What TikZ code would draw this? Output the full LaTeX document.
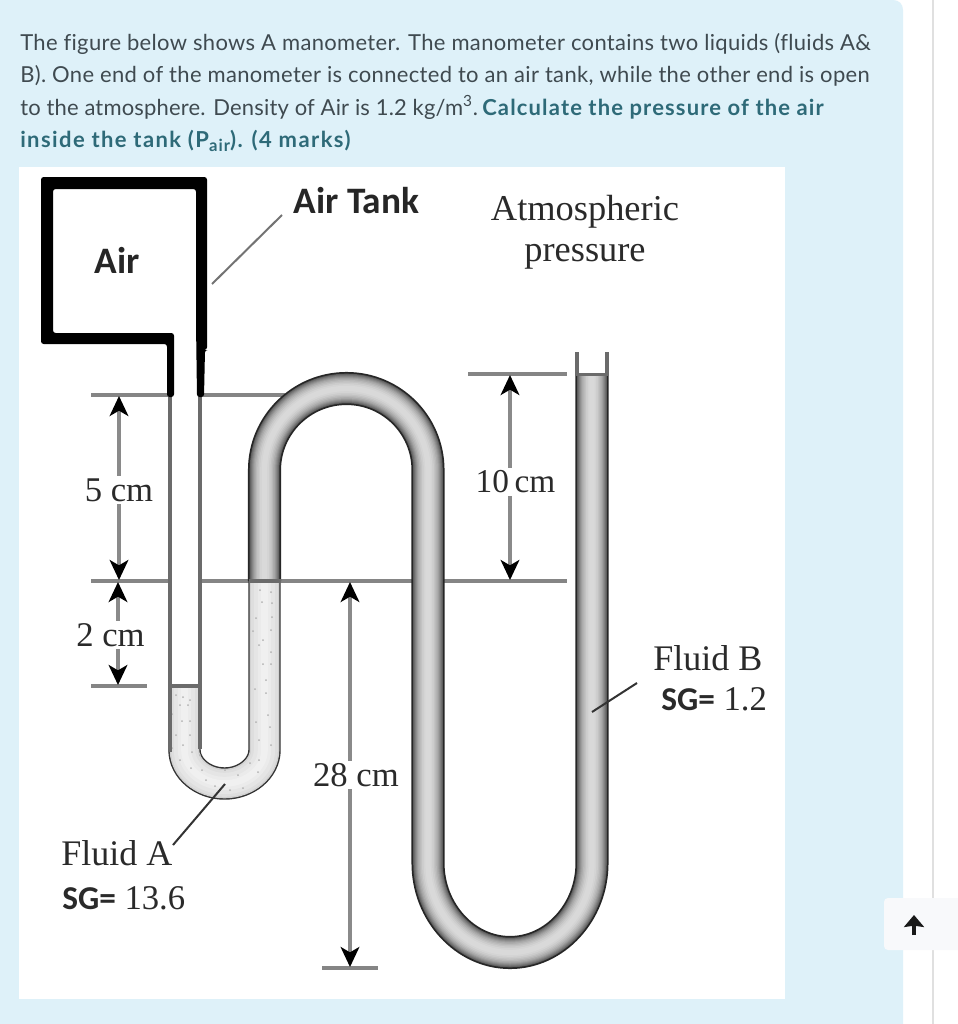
\documentclass[tikz,border=0pt]{standalone}
\usepackage{fontspec}
\setmainfont{Liberation Serif}
\newfontfamily\uifont[Ligatures=CommonOff,LetterSpace=1.5]{Lato}
\newfontfamily\uinarrow[Ligatures=CommonOff,LetterSpace=0.8]{Lato}
\newfontfamily\uiboldfont[Ligatures=CommonOff,LetterSpace=5.2]{Lato Bold}
\newfontfamily\uiboldwide[Ligatures=CommonOff,LetterSpace=6.4]{Lato Bold}
\newfontfamily\capfont{Carlito}
\usetikzlibrary{arrows.meta}
\definecolor{panel}{HTML}{DEF1F9}
\definecolor{uitext}{HTML}{3F4A50}
\definecolor{uibold}{HTML}{2E6A78}
\definecolor{dimgray}{HTML}{8A8A8A}
\definecolor{serifink}{HTML}{2A2A2A}
\definecolor{btn}{HTML}{F8F9FB}
\newcommand{\subair}{\raisebox{-0.22em}{\fontsize{12.5}{12}\selectfont air}}
\tikzset{
  x=0.75pt,y=-0.75pt,
  uiline/.style={anchor=base west,inner sep=0pt,text=uitext,font=\uifont\fontsize{16.5}{20}\selectfont},
  serif/.style={inner sep=0pt,text=serifink,font=\fontsize{27}{29}\selectfont},
  capb/.style={inner sep=0pt,text=black!85,font=\capfont\bfseries\fontsize{28}{30}\selectfont},
  dimline/.style={draw=dimgray,line width=2.4pt},
  dimarrow/.style={dimline,{Stealth[length=15pt,width=14pt,inset=4pt,black]}-{Stealth[length=15pt,width=14pt,inset=4pt,black]}},
  dimlabel/.style={inner sep=2pt,text=serifink,fill=white},
  tick/.style={draw=black!48,line width=2.4pt},
  leader/.style={draw=black!55,line width=1.5pt},
  wall/.style={draw=black!58,line width=2.4pt},
  tubeB/.style={insert path={
    (264.5,581) -- (264.5,470)
    .. controls (264.5,425) and (301.5,388.5) .. (346.5,388.5)
    .. controls (391.5,388.5) and (428,425) .. (428,470)
    -- (428,863)
    .. controls (428,912) and (465,952.5) .. (510,952.5)
    .. controls (555,952.5) and (592,912) .. (592,863)
    -- (592,374)}},
  tubeA/.style={insert path={
    (184.5,686) -- (184.5,750)
    .. controls (184.5,768) and (202.5,783.5) .. (224.5,783.5)
    .. controls (246.5,783.5) and (264.5,768) .. (264.5,750)
    -- (264.5,581)}},
}
\begin{document}
\begin{tikzpicture}
\useasboundingbox (0,0) rectangle (957,1024);
\fill[white] (0,0) rectangle (957,1024);
% page panel
\fill[panel] (0,0) -- (893,0) .. controls (899,0) and (903,4) .. (903,10) -- (903,1024) -- (0,1024) -- cycle;
\draw[draw=black!12,line width=1pt] (933,0) -- (933,1024);
\fill[white] (19,167) rectangle (785,999);
% question text
\node[uiline] (q1) at (20,51) {The figure below shows A manometer. The manometer contains two liquids (fluids A\&};
\node[uiline] (q2) at (20,83) {B). One end of the manometer is connected to an air tank, while the other end is open};
\node[uiline] (q3) at (20,115) {\uinarrow to the atmosphere. Density of Air is 1.2 kg/m\textsuperscript{3}.};
\node[uiline,text=uibold] (q3b) at (482,115) {\uiboldfont Calculate the pressure of the air};
\node[uiline,text=uibold] (q4) at (20,147) {\uiboldwide inside the tank (P\subair). (4 marks)};
% horizontal reference lines
\coordinate (l1a) at (91,395);  \coordinate (l1b) at (170,395);
\coordinate (l1c) at (200,395); \coordinate (l1d) at (285,395);
\coordinate (l2a) at (91,581);  \coordinate (l2b) at (170,581);
\coordinate (l2c) at (200,581); \coordinate (l2d) at (567,581);
\coordinate (l3a) at (91,686);  \coordinate (l3b) at (147,686);
\coordinate (l4a) at (468,374); \coordinate (l4b) at (567,374);
\coordinate (l5a) at (322,968); \coordinate (l5b) at (378,968);
\draw[tick] (l1a) -- (l1b);
\draw[tick] (l1c) -- (l1d);
\draw[tick] (l2a) -- (l2b);
\draw[tick] (l2c) -- (l2d);
\draw[tick] (l3a) -- (l3b);
\draw[tick] (l4a) -- (l4b);
\draw[tick] (l5a) -- (l5b);
% fluid B tube with shading
\draw[draw=black!85,line width=24.8pt,tubeB];
\foreach \w/\g in {22.2/64,21/57,19.5/50,18/44,16.5/38,15/33,13/28,11/24,9/20,6.5/17,4/15}
  \draw[draw=black!\g,line width=\w pt,tubeB];
% fluid A tube
\draw[draw=black!80,line width=24.3pt,tubeA];
\foreach \w/\g in {22.2/18,20/13,16/10,10/8,5/6}
  \draw[draw=black!\g,line width=\w pt,tubeA];
\foreach \px/\py in {260/590,271/592,262/602,272/603,256/618,272/617,253/631,271/630,263/640,259/645,271/652,263/664,271/664,266/680,255/689,266/693,268/715,256/722,270/727,259/740,271/745,176/695,183/697,190/700,180/705,188/705,172/714,182/721,190/721,176/735,190/735,183/745,172/748,192/752,180/760,191/768,202/770,206/780,215/786,225/770,238/775,250/763,258/772,230/790,243/788,259/760,200/755}
  \fill[black!30] (\px,\py) circle[radius=1];
% interior line segments
\draw[wall] (170,395) -- (170,752);
\draw[wall] (200,395) -- (200,749);
\draw[wall] (170,686) -- (200,686);
\draw[wall] (577,352) -- (577,376);
\draw[wall] (607,352) -- (607,376);
\draw[wall] (577,374.5) -- (607,374.5);
\draw[wall] (248.5,581) -- (280.5,581);
% tank
\fill[black,rounded corners=2pt] (41,177) -- (207,177) -- (207,350) -- (205,350) -- (204,397) -- (197,397) -- (196,323) -- (196,189) -- (53,189) -- (53,333) -- (174,333) -- (174,397) -- (167,397) -- (167,344) -- (41,344) -- cycle;
% dimension arrows
\coordinate (d5t) at (119,396);  \coordinate (d5b) at (119,580);
\coordinate (d2t) at (118,582);  \coordinate (d2b) at (118,685);
\coordinate (d10t) at (510,375); \coordinate (d10b) at (510,580);
\coordinate (d28t) at (350,582); \coordinate (d28b) at (350,967);
\draw[dimarrow] (d5t) -- (d5b);
\draw[dimarrow] (d2t) -- (d2b);
\draw[dimarrow] (d10t) -- (d10b);
\draw[dimarrow] (d28t) -- (d28b);
\node[dimlabel,font=\fontsize{26}{28}\selectfont] (t5) at (119,490) {5 cm};
\node[dimlabel,font=\fontsize{26}{28}\selectfont] (t2) at (110.5,635) {2 cm};
\node[dimlabel,font=\fontsize{25}{27}\selectfont] (t10) at (515.5,482) {10\,cm};
\node[dimlabel,font=\fontsize{26}{28}\selectfont] (t28) at (356,775) {28 cm};
% leaders
\coordinate (la1) at (212,284); \coordinate (la2) at (282,215);
\coordinate (la3) at (173,845); \coordinate (la4) at (225,784);
\coordinate (la5) at (592,712); \coordinate (la6) at (637,683);
\draw[leader] (la1) -- (la2);
\draw[leader,draw=black!80] (la3) -- (la4);
\draw[leader,draw=black!80] (la5) -- (la6);
% labels
\node[capb] (air) at (117,260) {Air};
\node[capb] (tank) at (356.5,201) {Air Tank};
\node[serif,font=\fontsize{27.3}{29}\selectfont] (atm1) at (585,212) {Atmospheric};
\node[serif,font=\fontsize{27.3}{29}\selectfont] (atm2) at (585,257) {pressure};
\node[serif,anchor=base west] (fa) at (61,865) {Fluid A};
\node[anchor=base west,inner sep=0pt,text=serifink,font=\fontsize{26}{27}\selectfont] (sa) at (62,909) {{\capfont\bfseries\fontsize{25}{28}\selectfont SG=} 13.6};
\node[serif,anchor=base west] (fb) at (653,670) {Fluid B};
\node[anchor=base west,inner sep=0pt,text=serifink,font=\fontsize{26}{27}\selectfont] (sb) at (661,710) {{\capfont\bfseries\fontsize{25}{28}\selectfont SG=} 1.2};
% scroll-to-top button
\fill[btn,rounded corners=3pt] (884,898) rectangle (965,950);
\coordinate (up1) at (914,935); \coordinate (up2) at (914,915);
\draw[draw=black!90,line width=3.6pt,-{Stealth[length=9pt,width=15pt,inset=1pt]}] (up1) -- (up2);
\end{tikzpicture}
\end{document}
